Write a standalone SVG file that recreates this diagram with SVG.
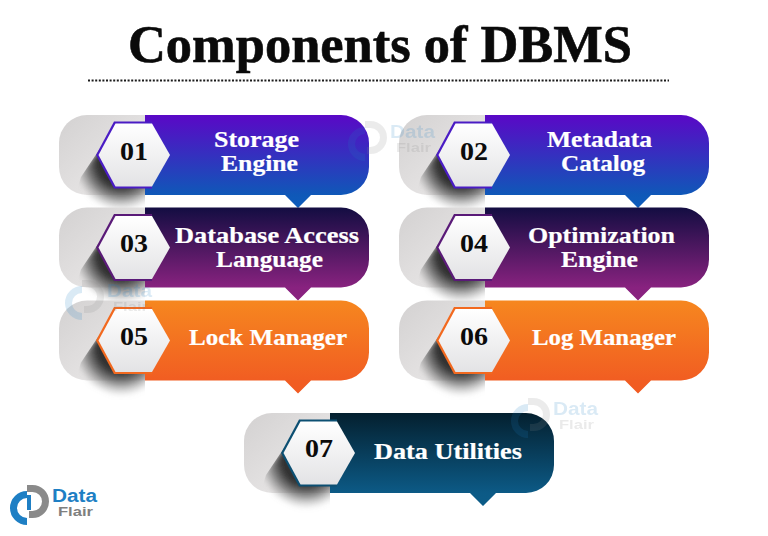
<svg xmlns="http://www.w3.org/2000/svg" width="768" height="536" viewBox="0 0 768 536">
<style>
text{font-family:"Liberation Serif","DejaVu Serif",serif;font-weight:700}
.title{font-size:52px;fill:#0a0a0a;stroke:#0a0a0a;stroke-width:.6px}
.lbl{font-size:24px;fill:#fff;stroke:#fff;stroke-width:.2px}
.num{font-size:25px;fill:#0b0b0b}
.wd{font-family:"Liberation Sans","DejaVu Sans",sans-serif;font-size:18px;fill:#1e7fc4}
.wf{font-family:"Liberation Sans","DejaVu Sans",sans-serif;font-size:12px;fill:#7f7f7f}
.wm{opacity:.16}
.lg{fill:none;stroke:#8a8a8a;stroke-width:7}
.lb{fill:none;stroke:#1e7fc4;stroke-width:7}
.lb2{fill:none;stroke:#1e7fc4;stroke-width:4}
</style>
<defs>
<linearGradient id="gray" x1="0" y1="0" x2="1" y2="1"><stop offset="0" stop-color="#d3d1d1"/><stop offset="1" stop-color="#efeded"/></linearGradient>
<linearGradient id="hexfill" x1="0" y1="0" x2="0" y2="1"><stop offset="0" stop-color="#ffffff"/><stop offset="1" stop-color="#e3e3e5"/></linearGradient>
<radialGradient id="shade" gradientUnits="userSpaceOnUse" cx="62" cy="48" r="48"><stop offset="0.5" stop-color="#333"/><stop offset="0.7" stop-color="#5c5c5c" stop-opacity=".75"/><stop offset="1" stop-color="#999" stop-opacity="0"/></radialGradient>
<filter id="soft" x="-30%" y="-30%" width="160%" height="160%"><feGaussianBlur stdDeviation="2.500"/></filter>
<clipPath id="shclip"><polygon points="42,32 22,62 10,100 86,100 86,50"/></clipPath>
<linearGradient id="g1" x1="0" y1="0" x2="0" y2="1"><stop offset="0" stop-color="#5a08c6"/><stop offset="0.86" stop-color="#0f58b8"/><stop offset="1" stop-color="#0d5cbc"/></linearGradient>
<linearGradient id="g2" x1="0" y1="0" x2="0" y2="1"><stop offset="0" stop-color="#130d42"/><stop offset="0.86" stop-color="#88227f"/><stop offset="1" stop-color="#8a2280"/></linearGradient>
<linearGradient id="g3" x1="0" y1="0" x2="0" y2="1"><stop offset="0" stop-color="#f6871f"/><stop offset="0.86" stop-color="#f15d22"/><stop offset="1" stop-color="#f15a22"/></linearGradient>
<linearGradient id="g4" x1="0" y1="0" x2="0" y2="1"><stop offset="0" stop-color="#04202f"/><stop offset="0.86" stop-color="#0c5a86"/><stop offset="1" stop-color="#0c5c88"/></linearGradient>
<path id="cardL" fill="url(#gray)" d="M86 0H28A28 28 0 0 0 0 28V52A28 28 0 0 0 28 80H86Z"/>
<g id="shadow" clip-path="url(#shclip)"><polygon fill="url(#shade)" filter="url(#soft)" points="45,30 18,62 32,84 55,96 96,96 96,60 56,60"/></g>
<path id="cardR" d="M86 0H282A28 28 0 0 1 310 28V52A28 28 0 0 1 282 80H252L239 93L226 80H86Z"/>
<polygon id="hexB" points="37,40 55,6.500 93,6.500 93,73.500 55,73.500"/>
<polygon id="hex" fill="url(#hexfill)" points="39.500,40 56.500,8.500 93,8.500 111,40 93,71.500 56.500,71.500"/>
</defs>
<rect width="768" height="536" fill="#fff"/>
<g id="title">
<text class="title" x="380" y="62" text-anchor="middle" textLength="504" lengthAdjust="spacingAndGlyphs">Components of DBMS</text>
<line x1="88" y1="80.500" x2="669" y2="80.500" stroke="#1a1a1a" stroke-width="2" stroke-dasharray="2 1.600"/>
</g>
<g id="connectors"></g>
<g id="node-01">
<use href="#cardL" x="59" y="115"/><use href="#shadow" x="59" y="115"/><use href="#cardR" x="59" y="115" fill="url(#g1)"/><use href="#hexB" x="59" y="115" fill="#4a1cc4"/><use href="#hex" x="59" y="115"/>
<text class="num" x="134" y="160" text-anchor="middle" textLength="28" lengthAdjust="spacingAndGlyphs">01</text>
<text class="lbl" x="256.500" y="147" text-anchor="middle" textLength="85" lengthAdjust="spacingAndGlyphs">Storage</text>
<text class="lbl" x="259.500" y="170.500" text-anchor="middle" textLength="77" lengthAdjust="spacingAndGlyphs">Engine</text>
</g>
<g id="node-02">
<use href="#cardL" x="399" y="115"/><use href="#shadow" x="399" y="115"/><use href="#cardR" x="399" y="115" fill="url(#g1)"/><use href="#hexB" x="399" y="115" fill="#4a1cc4"/><use href="#hex" x="399" y="115"/>
<text class="num" x="474" y="160" text-anchor="middle" textLength="28" lengthAdjust="spacingAndGlyphs">02</text>
<text class="lbl" x="599.500" y="147" text-anchor="middle" textLength="105" lengthAdjust="spacingAndGlyphs">Metadata</text>
<text class="lbl" x="603" y="170.500" text-anchor="middle" textLength="84" lengthAdjust="spacingAndGlyphs">Catalog</text>
</g>
<g id="node-03">
<use href="#cardL" x="59" y="207.500"/><use href="#shadow" x="59" y="207.500"/><use href="#cardR" x="59" y="207.500" fill="url(#g2)"/><use href="#hexB" x="59" y="207.500" fill="#5a1a78"/><use href="#hex" x="59" y="207.500"/>
<text class="num" x="134" y="252" text-anchor="middle" textLength="28" lengthAdjust="spacingAndGlyphs">03</text>
<text class="lbl" x="267" y="243" text-anchor="middle" textLength="184" lengthAdjust="spacingAndGlyphs">Database Access</text>
<text class="lbl" x="269.500" y="266.500" text-anchor="middle" textLength="107" lengthAdjust="spacingAndGlyphs">Language</text>
</g>
<g id="node-04">
<use href="#cardL" x="399" y="207.500"/><use href="#shadow" x="399" y="207.500"/><use href="#cardR" x="399" y="207.500" fill="url(#g2)"/><use href="#hexB" x="399" y="207.500" fill="#5a1a78"/><use href="#hex" x="399" y="207.500"/>
<text class="num" x="474" y="252" text-anchor="middle" textLength="28" lengthAdjust="spacingAndGlyphs">04</text>
<text class="lbl" x="601.500" y="243" text-anchor="middle" textLength="147" lengthAdjust="spacingAndGlyphs">Optimization</text>
<text class="lbl" x="599.500" y="266.500" text-anchor="middle" textLength="77" lengthAdjust="spacingAndGlyphs">Engine</text>
</g>
<g id="node-05">
<use href="#cardL" x="59" y="300.500"/><use href="#shadow" x="59" y="300.500"/><use href="#cardR" x="59" y="300.500" fill="url(#g3)"/><use href="#hexB" x="59" y="300.500" fill="#f2691f"/><use href="#hex" x="59" y="300.500"/>
<text class="num" x="134" y="345" text-anchor="middle" textLength="28" lengthAdjust="spacingAndGlyphs">05</text>
<text class="lbl" x="268" y="345" text-anchor="middle" textLength="158" lengthAdjust="spacingAndGlyphs">Lock Manager</text>
</g>
<g id="node-06">
<use href="#cardL" x="399" y="300.500"/><use href="#shadow" x="399" y="300.500"/><use href="#cardR" x="399" y="300.500" fill="url(#g3)"/><use href="#hexB" x="399" y="300.500" fill="#f2691f"/><use href="#hex" x="399" y="300.500"/>
<text class="num" x="474" y="345" text-anchor="middle" textLength="28" lengthAdjust="spacingAndGlyphs">06</text>
<text class="lbl" x="604" y="345" text-anchor="middle" textLength="144" lengthAdjust="spacingAndGlyphs">Log Manager</text>
</g>
<g id="node-07">
<use href="#cardL" x="244" y="413"/><use href="#shadow" x="244" y="413"/><use href="#cardR" x="244" y="413" fill="url(#g4)"/><use href="#hexB" x="244" y="413" fill="#0c4f72"/><use href="#hex" x="244" y="413"/>
<text class="num" x="319" y="457" text-anchor="middle" textLength="28" lengthAdjust="spacingAndGlyphs">07</text>
<text class="lbl" x="448" y="459" text-anchor="middle" textLength="148" lengthAdjust="spacingAndGlyphs">Data Utilities</text>
</g>
<g id="logo-main">
<path class="lg" d="M27 488.500H32.500A13 13 0 0 1 32.500 514.500H29"/>
<path class="lb" d="M27 494.500A13.500 13.500 0 0 0 27 521.500"/>
<path class="lb2" d="M29 495V510"/>
<text class="wd" x="52" y="502" textLength="45" lengthAdjust="spacingAndGlyphs">Data</text>
<text class="wf" x="58" y="516" textLength="35" lengthAdjust="spacingAndGlyphs">Flair</text>
</g>
<g id="logo-wm-1" class="wm" transform="translate(338 -364)">
<path class="lg" d="M27 488.500H32.500A13 13 0 0 1 32.500 514.500H29"/>
<path class="lb" d="M27 494.500A13.500 13.500 0 0 0 27 521.500"/>
<text class="wd" x="52" y="502" textLength="45" lengthAdjust="spacingAndGlyphs">Data</text>
<text class="wf" x="58" y="516" textLength="35" lengthAdjust="spacingAndGlyphs">Flair</text>
</g>
<g id="logo-wm-2" class="wm" transform="translate(55 -205)">
<path class="lg" d="M27 488.500H32.500A13 13 0 0 1 32.500 514.500H29"/>
<path class="lb" d="M27 494.500A13.500 13.500 0 0 0 27 521.500"/>
<text class="wd" x="52" y="502" textLength="45" lengthAdjust="spacingAndGlyphs">Data</text>
<text class="wf" x="58" y="516" textLength="35" lengthAdjust="spacingAndGlyphs">Flair</text>
</g>
<g id="logo-wm-3" class="wm" transform="translate(501 -87)">
<path class="lg" d="M27 488.500H32.500A13 13 0 0 1 32.500 514.500H29"/>
<path class="lb" d="M27 494.500A13.500 13.500 0 0 0 27 521.500"/>
<text class="wd" x="52" y="502" textLength="45" lengthAdjust="spacingAndGlyphs">Data</text>
<text class="wf" x="58" y="516" textLength="35" lengthAdjust="spacingAndGlyphs">Flair</text>
</g>
</svg>
